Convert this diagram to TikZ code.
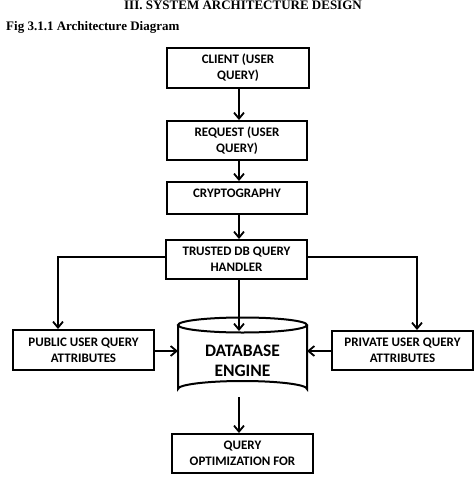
\documentclass[tikz,border=0pt]{standalone}
\usepackage{fontspec}
\setmainfont{Carlito}
\newfontfamily\titlefont{Liberation Serif}
\usetikzlibrary{arrows.meta}
\begin{document}
\begin{tikzpicture}[x=1pt,y=-1pt,
  boxfont/.style={font=\fontsize{13}{16}\selectfont\bfseries},
  box/.style={draw, line width=2pt, inner sep=0pt, align=center, boxfont},
  conn/.style={line width=2pt, -{Straight Barb[length=6pt,width=10pt,line width=1.8pt]}}]
\useasboundingbox (0,0) rectangle (474,488);
\node[anchor=base, inner sep=0pt, font=\titlefont\fontsize{13}{15}\selectfont\bfseries] (title) at (243,9.5) {III.\ SYSTEM ARCHITECTURE DESIGN};
\node[anchor=base west, inner sep=0pt, font=\titlefont\fontsize{13}{15}\selectfont\bfseries] (fig) at (6,30) {Fig 3.1.1 Architecture Diagram};

\node[box, minimum width=142pt, minimum height=40pt] (client) at (238,68) {CLIENT (USER\\QUERY)};
\node[box, minimum width=140pt, minimum height=39pt] (request) at (237,140.5) {REQUEST (USER\\QUERY)};
\node[box, minimum width=140pt, minimum height=32pt, anchor=north] (crypto) at (237,181) {};
\node[boxfont] (cryptotext) at (237,193.5) {CRYPTOGRAPHY};
\node[box, minimum width=141pt, minimum height=39pt] (trusted) at (236.5,259.5) {TRUSTED DB QUERY\\HANDLER};
\node[box, minimum width=141pt, minimum height=40pt] (public) at (83.5,350) {PUBLIC USER QUERY\\ATTRIBUTES};
\node[box, minimum width=141pt, minimum height=39pt] (private) at (402.5,350.5) {PRIVATE USER QUERY\\ATTRIBUTES};
\node[box, minimum width=141pt, minimum height=39pt] (query) at (242.5,453.5) {QUERY\\OPTIMIZATION FOR};

% database cylinder
\draw[line width=2pt] (242.5,325) ellipse [x radius=64.5, y radius=7.5];
\draw[line width=2pt] (178,325) -- (178,389) arc[start angle=180, end angle=360, x radius=64.5, y radius=8] -- (307,325);
\node[inner sep=0pt, minimum width=129pt, minimum height=64pt, align=center,
  font=\fontsize{17.5}{20}\selectfont\bfseries] (db) at (242.5,361) {DATABASE\\ENGINE};
\coordinate (dbtop) at (239,331);
\coordinate (dbbot) at (239,397);

\draw[conn] (client.south -| dbtop) -- (request.north -| dbtop);
\draw[conn] (request.south -| dbtop) -- (crypto.north -| dbtop);
\draw[conn] (crypto.south -| dbtop) -- (trusted.north -| dbtop);
\draw[conn] (trusted.south -| dbtop) -- (dbtop);
\draw[conn] (trusted.west |- 0,257) -| (public.north -| 58,0);
\draw[conn] (trusted.east |- 0,257) -| (private.north -| 417,0);
\draw[conn] (public.east |- 0,351) -- (178,351);
\draw[conn] (private.west |- 0,351) -- (307,351);
\draw[conn] (dbbot) -- (query.north -| dbbot);
\end{tikzpicture}
\end{document}
